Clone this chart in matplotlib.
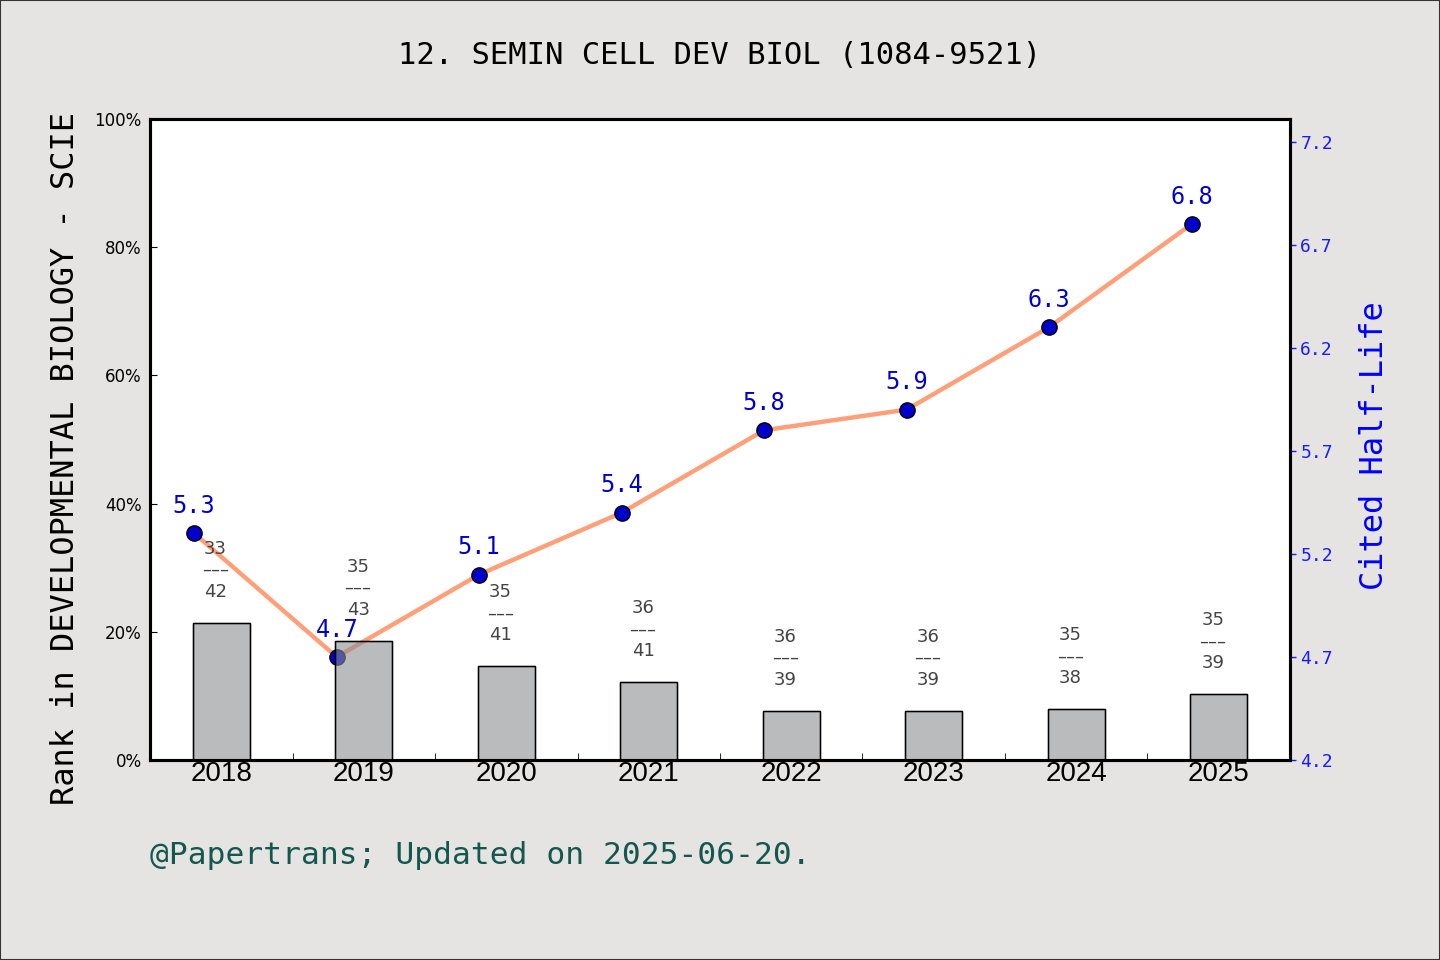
import matplotlib.pyplot as plt
from matplotlib.patches import Rectangle

# data
years = ['2018', '2019', '2020', '2021', '2022', '2023', '2024', '2025']
rank = [33, 35, 35, 36, 36, 36, 35, 35]
total = [42, 43, 41, 41, 39, 39, 38, 39]
half_life = [5.3, 4.7, 5.1, 5.4, 5.8, 5.9, 6.3, 6.8]

pct = [(t - r) / t * 100 for r, t in zip(rank, total)]
x = list(range(len(years)))

mono = 'DejaVu Sans Mono'
bg = '#e5e4e2'

fig = plt.figure(figsize=(14.4, 9.6), dpi=100, facecolor=bg)
fig.patches.append(Rectangle((0, 0), 1, 1, transform=fig.transFigure,
                             fill=False, edgecolor='#333333', linewidth=1.5))
ax = fig.add_axes([0.1042, 0.2083, 0.7916, 0.6677])
ax2 = ax.twinx()

# line on the twin axis, placed under the bars
ax2.patch.set_visible(True)
ax2.set_facecolor('white')
ax2.plot([i - 0.19 for i in x], half_life, color='#ffa07a', linewidth=3.2,
         marker='o', markersize=11, markerfacecolor='#0000cd',
         markeredgecolor='black', markeredgewidth=1, zorder=3)
for i, v in zip(x, half_life):
    ax2.annotate(f'{v:.1f}', (i - 0.19, v), xytext=(0, 11), textcoords='offset points',
                 ha='center', va='bottom', color='#0000cd', fontsize=17, family=mono)
ax2.set_ylim(4.2, 7.31)
ax2.set_yticks([4.2, 4.7, 5.2, 5.7, 6.2, 6.7, 7.2])
ax2.set_yticklabels(['4.2', '4.7', '5.2', '5.7', '6.2', '6.7', '7.2'], family=mono)
ax2.tick_params(axis='y', colors='#1a1aff', labelsize=13, direction='out', length=4, width=1)
ax2.set_ylabel('Cited Half-Life', color='#0000ff', fontsize=23, family=mono)
ax2.yaxis.set_label_coords(1.061, 0.49)

ax.set_zorder(ax2.get_zorder() + 1)
ax.patch.set_visible(False)

ax.bar(x, pct, width=0.4, color='#8c8e91', alpha=0.6, edgecolor='black', linewidth=1)
ax.bar(x, pct, width=0.4, fill=False, edgecolor='black', linewidth=1)
for i, p, r, t in zip(x, pct, rank, total):
    ax.text(i - 0.04, p + 8.2, f'{r}\n\u2013\u2013\u2013\n{t}', ha='center', va='center',
            fontsize=13, color='#444444', linespacing=1.25)

ax.set_xlim(-0.5, 7.5)
ax.set_ylim(0, 100)
ax.set_xticks(x)
ax.set_xticklabels(years, fontsize=20, family='Liberation Sans')
ax.tick_params(axis='x', length=0, pad=1)
ax.set_xticks([i + 0.5 for i in x[:-1]], minor=True)
ax.tick_params(axis='x', which='minor', direction='in', length=5)
ax.set_yticks([0, 20, 40, 60, 80, 100])
ax.set_yticklabels(['0%', '20%', '40%', '60%', '80%', '100%'])
ax.tick_params(axis='y', direction='in', length=5, labelsize=12, pad=6)
ax.set_ylabel('Rank in DEVELOPMENTAL BIOLOGY - SCIE', fontsize=23, family=mono)
ax.yaxis.set_label_coords(-0.061, 0.47)

for a in (ax, ax2):
    for s in a.spines.values():
        s.set_linewidth(2.2)

fig.text(0.5, 0.942, '12. SEMIN CELL DEV BIOL (1084-9521)', ha='center', va='center',
         fontsize=22, family=mono)
fig.text(0.104, 0.109, '@Papertrans; Updated on 2025-06-20.', ha='left', va='center',
         fontsize=22.5, family=mono, color='#13574f')

plt.savefig('out.png', dpi=100, facecolor=bg)
